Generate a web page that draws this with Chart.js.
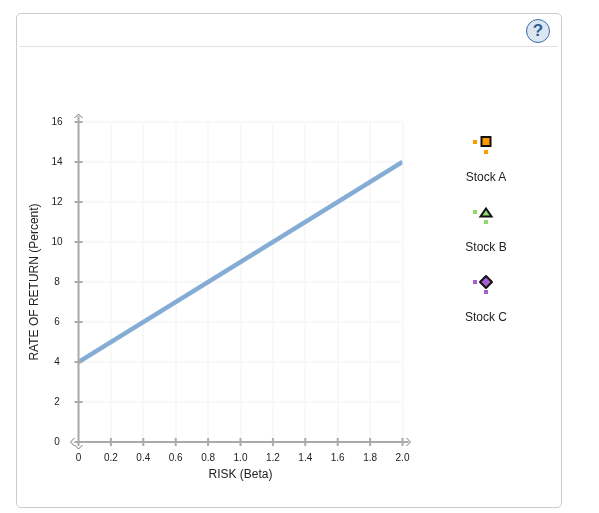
<!DOCTYPE html>
<html>
<head>
<meta charset="utf-8">
<title>Risk and return</title>
<script src="https://cdn.jsdelivr.net/npm/chart.js@4"></script>
<style>
  html, body { margin: 0; padding: 0; background: #fff; overflow: hidden; }
  body { width: 599px; height: 513px; position: relative; font-family: "Liberation Sans", Arial, sans-serif; }
  #card { position: absolute; left: 16px; top: 13px; width: 544px; height: 493px; border: 1px solid #ccc; border-radius: 5px; box-sizing: content-box; }
  #head { position: absolute; left: 19px; top: 46px; width: 539px; height: 1px; background: #e2e2e2; }
  #help { position: absolute; left: 526px; top: 19px; width: 22px; height: 22px; border: 1px solid #3a6ea5; border-radius: 50%; background: #dce6f0; color: #2c5f96; font: bold 17px/22px "Liberation Sans", Arial, sans-serif; text-align: center; }
  #chart { position: absolute; left: 0; top: 0; }
  .key { position: absolute; left: 446px; width: 80px; text-align: center; font-size: 12px; color: #222; }
  .glyph { position: absolute; left: 466px; width: 30px; height: 30px; }
</style>
</head>
<body>
<div id="card"></div>
<div id="head"></div>
<div id="help">?</div>
<canvas id="chart" width="599" height="513"></canvas>

<svg class="glyph" style="top:127px" viewBox="0 0 30 30">
  <rect x="7" y="13" width="4" height="4" fill="#f90"/><rect x="18" y="23" width="4" height="4" fill="#f90"/>
  <rect x="15.5" y="10" width="9" height="9" fill="#f90" stroke="#111" stroke-width="2"/>
</svg>
<div class="key" style="top:170px">Stock A</div>

<svg class="glyph" style="top:197px" viewBox="0 0 30 30">
  <rect x="7" y="13" width="4" height="4" fill="#8fd96a"/><rect x="18" y="23" width="4" height="4" fill="#8fd96a"/>
  <polygon points="20,11.5 25.5,19.5 14.5,19.5" fill="#8fd96a" stroke="#111" stroke-width="2"/>
</svg>
<div class="key" style="top:240px">Stock B</div>

<svg class="glyph" style="top:267px" viewBox="0 0 30 30">
  <rect x="7" y="13" width="4" height="4" fill="#a55fd0"/><rect x="18" y="23" width="4" height="4" fill="#a55fd0"/>
  <polygon points="20,9 26,15 20,21 14,15" fill="#a55fd0" stroke="#111" stroke-width="2" stroke-linejoin="round"/>
</svg>
<div class="key" style="top:310px">Stock C</div>

<script>
// ---- data ----
const riskBeta = [0, 2];
const rateOfReturn = [4, 14];
const xTicks = ['0', '0.2', '0.4', '0.6', '0.8', '1.0', '1.2', '1.4', '1.6', '1.8', '2.0'];
const yTicks = ['0', '2', '4', '6', '8', '10', '12', '14', '16'];
const xTitle = 'RISK (Beta)';
const yTitle = 'RATE OF RETURN (Percent)';

const AXIS = '#aaa';
const GRID = '#f8f8f8';

// axis lines, crossing tick marks and the open arrow heads
const axisArrows = {
  id: 'axisArrows',
  afterDatasetsDraw(chart) {
    const { ctx, scales: { x, y } } = chart;
    const x0 = x.getPixelForValue(0), y0 = y.getPixelForValue(0);
    const xEnd = x.getPixelForValue(2), yEnd = y.getPixelForValue(16);
    ctx.save();
    ctx.strokeStyle = AXIS;
    ctx.lineWidth = 2;
    ctx.beginPath();
    ctx.moveTo(x0, y0 + 4); ctx.lineTo(x0, yEnd - 6);
    ctx.moveTo(x0 - 4, y0); ctx.lineTo(xEnd + 6, y0);
    xTicks.forEach((t, i) => {
      const px = x.getPixelForValue(i * 0.2);
      ctx.moveTo(px, y0 - 4); ctx.lineTo(px, y0 + 4);
    });
    yTicks.forEach((t, i) => {
      const py = y.getPixelForValue(i * 2);
      ctx.moveTo(x0 - 4, py); ctx.lineTo(x0 + 4, py);
    });
    ctx.stroke();
    ctx.strokeStyle = '#777';
    ctx.lineWidth = 1;
    ctx.beginPath();
    ctx.moveTo(x0 - 4, yEnd - 4); ctx.lineTo(x0, yEnd - 8); ctx.lineTo(x0 + 4, yEnd - 4);
    ctx.moveTo(x0 - 4, y0 + 3); ctx.lineTo(x0, y0 + 7); ctx.lineTo(x0 + 4, y0 + 3);
    ctx.moveTo(xEnd + 4, y0 - 4); ctx.lineTo(xEnd + 8, y0); ctx.lineTo(xEnd + 4, y0 + 4);
    ctx.moveTo(x0 - 4, y0 - 4); ctx.lineTo(x0 - 8, y0); ctx.lineTo(x0 - 4, y0 + 4);
    ctx.stroke();
    ctx.restore();
  }
};

new Chart(document.getElementById('chart'), {
  type: 'scatter',
  data: {
    datasets: [{
      data: riskBeta.map((b, i) => ({ x: b, y: rateOfReturn[i] })),
      showLine: true,
      borderColor: '#85acd5',
      borderWidth: 4.5,
      pointRadius: 0,
      borderCapStyle: 'butt'
    }]
  },
  options: {
    responsive: false,
    animation: false,
    layout: { padding: { left: 27, top: 122, right: 196.5, bottom: 31 } },
    plugins: { legend: { display: false }, tooltip: { enabled: false } },
    scales: {
      x: {
        type: 'linear', min: 0, max: 2,
        afterFit: s => { s.height = 40; },
        border: { display: false },
        grid: { color: GRID, lineWidth: 2, drawTicks: false },
        ticks: {
          stepSize: 0.2, padding: 10, maxRotation: 0, color: '#222',
          font: { family: '"Liberation Sans", Arial', size: 10 },
          callback: (v, i) => xTicks[i]
        },
        title: {
          display: true, text: xTitle, color: '#222', padding: { top: 3, bottom: 0 },
          font: { family: '"Liberation Sans", Arial', size: 12 }
        }
      },
      y: {
        type: 'linear', min: 0, max: 16,
        afterFit: s => { s.width = 51.5; },
        border: { display: false },
        grid: { color: GRID, lineWidth: 2, drawTicks: false },
        ticks: {
          stepSize: 2, padding: 16, crossAlign: 'center', color: '#222',
          font: { family: '"Liberation Sans", Arial', size: 10 },
          callback: (v, i) => yTicks[i]
        },
        title: {
          display: true, text: yTitle, color: '#222', padding: 0,
          font: { family: '"Liberation Sans", Arial', size: 12 }
        }
      }
    }
  },
  plugins: [axisArrows]
});
</script>
</body>
</html>
